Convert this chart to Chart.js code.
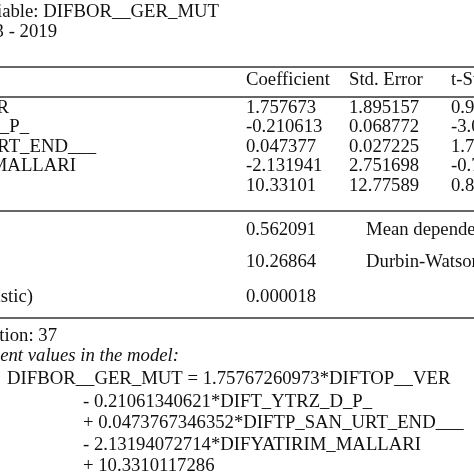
<!DOCTYPE html>
<html>
<head>
<meta charset="utf-8">
<script src="https://cdn.jsdelivr.net/npm/chart.js@4"></script>
<style>
  html, body { margin: 0; padding: 0; background: #fff; }
  #wrap { width: 474px; height: 474px; }
</style>
</head>
<body>
<div id="wrap"><canvas id="tbl"></canvas></div>
<script>
// Regression output values
const headerLines = ["Dependent Variable: DIFBOR__GER_MUT", "Sample: 1983 - 2019"];
const columns = ["Coefficient", "Std. Error", "t-Statistic"];
const variables = ["DIFTOP__VER", "DIFT_YTRZ_D_P_", "DIFTP_SAN_URT_END___", "DIFYATIRIM_MALLARI", "C"];
const coefficients = ["1.757673", "-0.210613", "0.047377", "-2.131941", "10.33101"];
const stdErrors = ["1.895157", "0.068772", "0.027225", "2.751698", "12.77589"];
const tStats = ["0.927460", "-3.062449", "1.740207", "-0.774770", "0.808603"];
const statLabels = ["R-squared", "F-statistic", "Prob(F-statistic)"];
const statValues = ["0.562091", "10.26864", "0.000018"];
const rightLabels = ["Mean dependent var", "Durbin-Watson stat", ""];
const footer = ["Total observation: 37", "Coefficient values in the model:"];
const equation = [
  "DIFBOR__GER_MUT = 1.75767260973*DIFTOP__VER",
  "- 0.21061340621*DIFT_YTRZ_D_P_",
  "+ 0.0473767346352*DIFTP_SAN_URT_END___",
  "- 2.13194072714*DIFYATIRIM_MALLARI",
  "+ 10.3310117286"
];

const FONT = '"Liberation Serif", serif';

// draws a text fitted to a target width (source font is wider than ours)
const put = (ctx, txt, x, y, align, style) => {
  ctx.save();
  ctx.font = (style || "") + " 18px " + FONT;
  ctx.textAlign = align || "left";
  ctx.textBaseline = "middle";
  ctx.translate(x, y);
  ctx.scale(1.04, 1);
  ctx.fillText(txt, 0, 0);
  ctx.restore();
};

const rule = (ctx, y) => {
  ctx.save();
  ctx.strokeStyle = "#333";
  ctx.lineWidth = 1.5;
  ctx.beginPath();
  ctx.moveTo(0, y);
  ctx.lineTo(474, y);
  ctx.stroke();
  ctx.restore();
};

const tablePlugin = {
  id: "tablePlugin",
  afterDraw(chart) {
    const ctx = chart.ctx;
    ctx.fillStyle = "#111";
    put(ctx, headerLines[0], 219, 12, "right");
    put(ctx, headerLines[1], 57, 32, "right");
    rule(ctx, 67);
    const cx = [246, 349, 451];
    columns.forEach((c, i) => put(ctx, c, cx[i], 80, "left"));
    rule(ctx, 97);
    const rowY = [108, 127, 147, 166, 186];
    const nameEnd = [9, 29, 96, 76, -20];
    variables.forEach((v, i) => {
      put(ctx, v, nameEnd[i], rowY[i], "right");
      put(ctx, coefficients[i], cx[0], rowY[i]);
      put(ctx, stdErrors[i], cx[1], rowY[i]);
      put(ctx, tStats[i], cx[2], rowY[i]);
    });
    rule(ctx, 211);
    const statY = [230, 262, 297];
    const labEnd = [-60, -40, 33];
    statLabels.forEach((s, i) => {
      put(ctx, s, labEnd[i], statY[i], "right");
      put(ctx, statValues[i], cx[0], statY[i]);
      if (rightLabels[i]) put(ctx, rightLabels[i], 366, statY[i]);
    });
    rule(ctx, 318);
    put(ctx, footer[0], 57, 336, "right");
    put(ctx, footer[1], 179, 356, "right", "italic");
    put(ctx, equation[0], 7, 379, "left");
    equation.slice(1).forEach((e, i) => put(ctx, e, 83, 402 + i * 21.5, "left"));
  }
};

new Chart(document.getElementById("tbl"), {
  type: "scatter",
  data: { datasets: [{ data: [] }] },
  options: {
    responsive: true,
    maintainAspectRatio: false,
    animation: false,
    layout: { padding: 0 },
    plugins: { legend: { display: false }, tooltip: { enabled: false } },
    scales: { x: { display: false }, y: { display: false } }
  },
  plugins: [tablePlugin]
});
</script>
</body>
</html>
